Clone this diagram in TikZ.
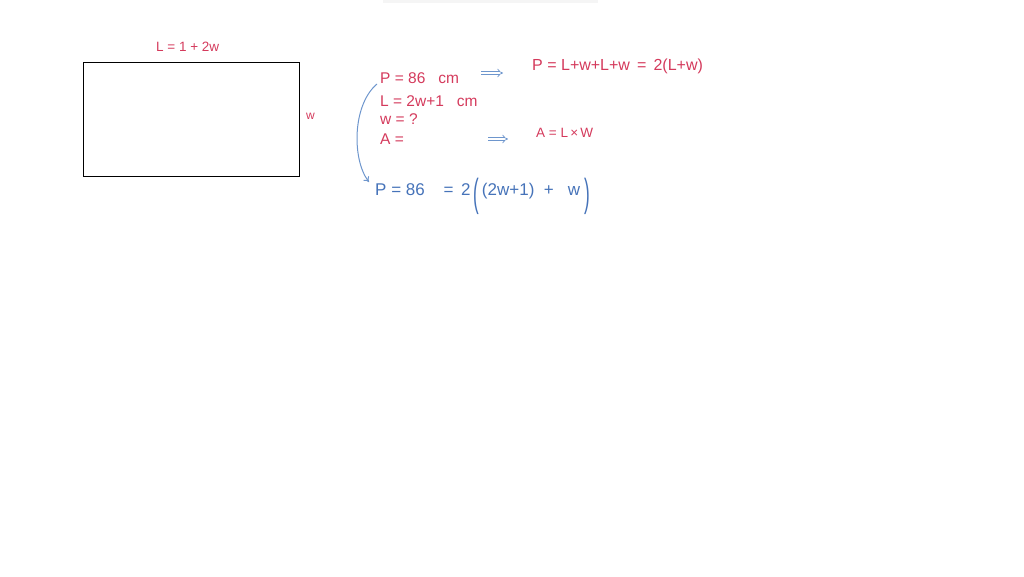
\documentclass[tikz,border=0pt]{standalone}
\usepackage{fontspec}
\setmainfont{Liberation Sans}
\usetikzlibrary{arrows.meta}
\definecolor{inkred}{RGB}{212,58,92}
\definecolor{inkblue}{RGB}{70,115,185}
\definecolor{arrblue}{RGB}{110,150,205}
\tikzset{
  redtxt/.style={text=inkred, font=\fontsize{15.5}{18}\selectfont, inner sep=0pt, anchor=west},
  bluetxt/.style={text=inkblue, font=\fontsize{17}{19}\selectfont, inner sep=0pt, anchor=west},
  implies/.style={draw=arrblue, double=white, double distance=2.2pt, line width=0.7pt, -{Implies}},
  curvearrow/.style={draw=arrblue, line width=1pt, -{To[length=5pt,width=7pt]}}
}
\begin{document}
\begin{tikzpicture}[x=1pt,y=-1pt]
\useasboundingbox (0,0) rectangle (1024,576);
\fill[black!4] (383,0) rectangle (598,3);
% rectangle
\node[draw=black, line width=1.3pt, minimum width=216pt, minimum height=114pt, inner sep=0pt, anchor=north west] (rect) at (83,62) {};
\node[redtxt, font=\fontsize{13.5}{15}\selectfont] (Llabel) at (156,47) {L = 1 + 2w};
\node[redtxt, font=\fontsize{12}{14}\selectfont] (wlabel) at (306,116) {w};
% givens
\node[redtxt] (P) at (380,78) {P = 86 \ \ cm};
\node[redtxt] (L) at (380,101) {L = 2w+1 \ \ cm};
\node[redtxt] (w) at (380,119) {w = ?};
\node[redtxt] (A) at (380,139) {A =};
% results
\node[redtxt, font=\fontsize{16}{18}\selectfont] (Pf) at (532,66) {P = L+w+L+w \,=\, 2(L+w)};
\node[redtxt, font=\fontsize{13.5}{15}\selectfont] (Af) at (536,133) {A = L\,×\,W};
% implication arrows
\coordinate (i1s) at (481,73);
\coordinate (i1e) at (503,73);
\coordinate (i2s) at (488,139);
\coordinate (i2e) at (508,139);
\draw[implies] (i1s) -- (i1e);
\draw[implies] (i2s) -- (i2e);
% blue equation
\node[bluetxt] (eq) at (375,196) {P = 86 \ \ \ = \,2\,\raisebox{-0.6em}{\scalebox{1}[2.3]{(}}\,(2w+1) \ +\ \ \ w\ \raisebox{-0.6em}{\scalebox{1}[2.3]{)}}};
% curved arrow
\coordinate (cs) at (377,84);
\coordinate (ce) at (369,182);
\draw[curvearrow] (cs) .. controls (352,105) and (352,160) .. (ce);
\end{tikzpicture}
\end{document}
